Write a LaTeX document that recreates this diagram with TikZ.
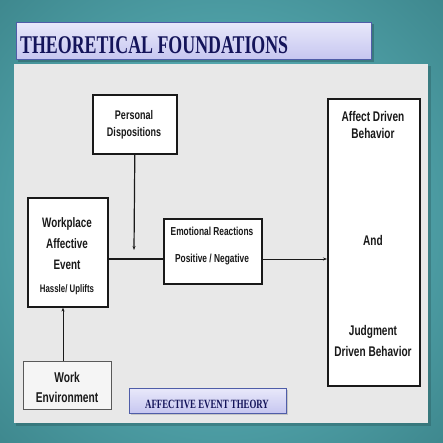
\documentclass[tikz,border=0pt]{standalone}
\usepackage{fontspec}
\newfontfamily\nsans[FakeStretch=0.72]{Liberation Sans}
\newfontfamily\tserif[FakeStretch=0.70]{Liberation Serif}
\usetikzlibrary{arrows.meta}
\definecolor{tealdark}{HTML}{3B8389}
\definecolor{teallight}{HTML}{66C2CA}
\definecolor{panelgray}{HTML}{E8E8E8}
\definecolor{navy}{HTML}{14145A}
\definecolor{lavtop}{HTML}{E8E8FA}
\definecolor{lavbot}{HTML}{C6C6F0}
\definecolor{lavborder}{HTML}{4F5DA8}
\tikzset{
  box/.style={draw=black!90, line width=1.6pt, fill=white, inner sep=0pt, anchor=north west},
  lightbox/.style={draw=black!65, line width=0.8pt, fill=black!4, inner sep=0pt, anchor=north west},
  lavbox/.style={draw=lavborder, line width=1pt, top color=lavtop, bottom color=lavbot, inner sep=0pt, anchor=north west},
  txt/.style={font=\nsans\bfseries, text=black!90, align=center, inner sep=0pt},
  conn/.style={line width=1.2pt, draw=black!90},
  tip/.style={-{Stealth[length=4pt,width=3pt]}},
}
\begin{document}
\begin{tikzpicture}[x=1pt,y=-1pt]
\useasboundingbox (0,0) rectangle (443,443);
% background
\shade[inner color=teallight, outer color=tealdark] (-120,-120) rectangle (563,563);
\fill[tealdark!60!black, opacity=0.35] (16,66) rectangle (431,426);
\fill[panelgray] (14,64) rectangle (428,423);
% title bar
\fill[tealdark!50!black, opacity=0.35] (18,24) rectangle (374,62);
\node[lavbox, minimum width=355pt, minimum height=37pt] (titlebar) at (16,22) {};
\node[font=\tserif\bfseries\fontsize{25.5}{26}\selectfont, text=navy, anchor=base west, inner sep=0pt] (title) at (20,54) {THEORETICAL FOUNDATIONS};
% boxes
\node[box, minimum width=84pt, minimum height=59pt] (pers) at (92,94) {};
\node[box, minimum width=80pt, minimum height=109pt] (work) at (27,197) {};
\node[box, minimum width=98pt, minimum height=65pt] (emo) at (163,218) {};
\node[box, minimum width=92pt, minimum height=287pt] (aff) at (327,98) {};
\node[lightbox, minimum width=88pt, minimum height=48pt] (env) at (23,361) {};
\fill[black, opacity=0.15] (131,390) rectangle (288,415);
\node[lavbox, minimum width=157pt, minimum height=25pt] (aet) at (129,388) {};
% texts
\node[txt, font=\nsans\bfseries\fontsize{12.5}{13}\selectfont] (t1) at (134,115) {Personal};
\node[txt, font=\nsans\bfseries\fontsize{12.5}{13}\selectfont] (t2) at (134,133) {Dispositions};
\node[txt, font=\nsans\bfseries\fontsize{13.7}{14}\selectfont] (t3) at (67,224) {Workplace};
\node[txt, font=\nsans\bfseries\fontsize{13.7}{14}\selectfont] (t4) at (67,244) {Affective};
\node[txt, font=\nsans\bfseries\fontsize{13.7}{14}\selectfont] (t5) at (67,265) {Event};
\node[txt, font=\nsans\bfseries\fontsize{10.9}{11}\selectfont] (t6) at (67,290) {Hassle/ Uplifts};
\node[txt, font=\nsans\bfseries\fontsize{11.6}{12}\selectfont] (t7) at (212,231) {Emotional Reactions};
\node[txt, font=\nsans\bfseries\fontsize{11.6}{12}\selectfont] (t8) at (212,260) {Positive / Negative};
\node[txt, font=\nsans\bfseries\fontsize{14}{15}\selectfont] (t9) at (373,116) {Affect Driven};
\node[txt, font=\nsans\bfseries\fontsize{14}{15}\selectfont] (t10) at (373,133) {Behavior};
\node[txt, font=\nsans\bfseries\fontsize{14}{15}\selectfont] (t11) at (373,240) {And};
\node[txt, font=\nsans\bfseries\fontsize{14}{15}\selectfont] (t12) at (373,332) {Judgment};
\node[txt, font=\nsans\bfseries\fontsize{14}{15}\selectfont] (t13) at (373,351) {Driven Behavior};
\node[txt, font=\nsans\bfseries\fontsize{14.2}{15}\selectfont] (t14) at (67,377) {Work};
\node[txt, font=\nsans\bfseries\fontsize{14.2}{15}\selectfont] (t15) at (67,397) {Environment};
\node[font=\tserif\bfseries\fontsize{12.6}{13}\selectfont, text=navy, inner sep=0pt] (t16) at (207,404) {AFFECTIVE EVENT THEORY};
% connectors
\coordinate (ptip) at (134,250);
\draw[conn] (work.east |- 0,259) -- (emo.west |- 0,259);
\draw[conn, tip] (pers.south) -- (ptip);
\draw[conn, line width=1pt, tip] (emo.east |- 0,259) -- (aff.west |- 0,259);
\draw[conn, line width=1pt, tip] (env.north -| 63,0) -- (work.south -| 63,0);
\end{tikzpicture}
\end{document}
